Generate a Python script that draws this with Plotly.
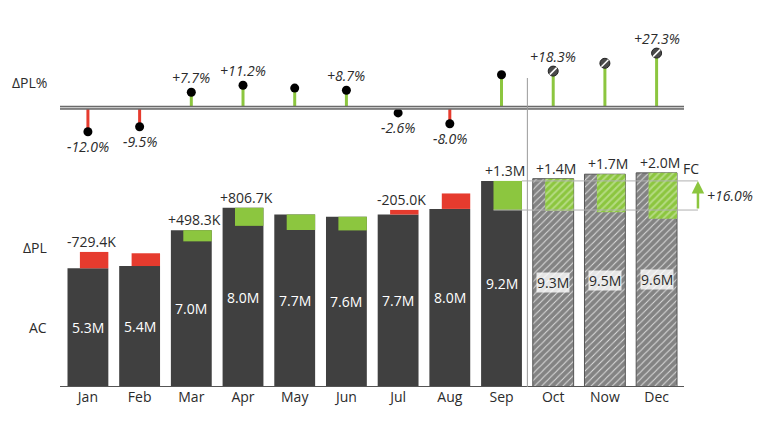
import plotly.graph_objects as go

# ---------------- data ----------------
months = ["Jan", "Feb", "Mar", "Apr", "May", "Jun", "Jul", "Aug", "Sep", "Oct", "Now", "Dec"]
ac = [5.30, 5.40, 7.00, 8.00, 7.70, 7.60, 7.70, 7.95, 9.20, 9.30, 9.50, 9.56]          # M
delta_pl = [-0.7294, -0.57, 0.4983, 0.8067, 0.69, 0.61, -0.205, -0.69, 1.30, 1.44, 1.70, 2.05]  # M
delta_pct = [-12.0, -9.5, 7.7, 11.2, 9.8, 8.7, -2.6, -8.0, 16.5, 18.3, 22.2, 27.3]     # %
pl_labels = ["-729.4K", "", "+498.3K", "+806.7K", "", "", "-205.0K", "", "+1.3M", "+1.4M", "+1.7M", "+2.0M"]
pct_labels = ["-12.0%", "-9.5%", "+7.7%", "+11.2%", "", "+8.7%", "-2.6%", "-8.0%", "", "+18.3%", "", "+27.3%"]
n_actual = 9          # Jan..Sep actual, Oct..Dec forecast
ref_label = "+16.0%"
fc_label = "FC"

# ---------------- styling ----------------
FONT = "Open Sans"
FS = 14
DARK = "#404040"
RED = "#E63B2E"
GREEN = "#8CC63F"
TXT = "#2b2b2b"
W, H = 768, 431
OFF = 8  # page body margin


def fy(p):
    """reference pixel row -> paper fraction"""
    return 1 - (p - OFF) / H


def fx(p):
    return (p - OFF) / W


py = [a - d for a, d in zip(ac, delta_pl)]
idx = list(range(len(months)))
act = idx[:n_actual]
fc = idx[n_actual:]

BAR_W, BAR_OFF = 0.79, -0.395
D_W, D_OFF = 0.55, -0.155

fig = go.Figure()

# AC bars
fig.add_trace(go.Bar(x=act, y=[ac[i] for i in act], xaxis="x", yaxis="y2",
                     width=BAR_W, offset=BAR_OFF,
                     marker=dict(color=DARK, line=dict(width=0)), hoverinfo="skip"))
# FC bars (hatched)
fig.add_trace(go.Bar(x=fc, y=[ac[i] for i in fc], xaxis="x", yaxis="y2",
                     width=BAR_W, offset=BAR_OFF,
                     marker=dict(color="white", line=dict(color="#555555", width=1),
                                 pattern=dict(shape="/", fgcolor="#2a2a2a", bgcolor="#dcdcdc",
                                              size=5, solidity=0.8)),
                     hoverinfo="skip"))
# delta boxes, actual
fig.add_trace(go.Bar(x=act, y=[abs(delta_pl[i]) for i in act],
                     base=[min(ac[i], py[i]) for i in act], xaxis="x", yaxis="y2",
                     width=D_W, offset=D_OFF,
                     marker=dict(color=[GREEN if delta_pl[i] >= 0 else RED for i in act],
                                 line=dict(width=0)), hoverinfo="skip"))
# delta boxes, forecast (hatched green)
fig.add_trace(go.Bar(x=fc, y=[abs(delta_pl[i]) for i in fc],
                     base=[min(ac[i], py[i]) for i in fc], xaxis="x", yaxis="y2",
                     width=D_W, offset=D_OFF,
                     marker=dict(color=GREEN, line=dict(width=0),
                                 pattern=dict(shape="/", fgcolor="#DDF0C6", bgcolor="#8CC63F",
                                              size=5, solidity=0.4)),
                     hoverinfo="skip"))

# lollipop stems
for sign, col in ((1, GREEN), (-1, RED)):
    xs, ys = [], []
    for i in idx:
        if delta_pct[i] * sign > 0:
            xs += [i, i, None]
            ys += [0, delta_pct[i], None]
    fig.add_trace(go.Scatter(x=xs, y=ys, xaxis="x", yaxis="y", mode="lines",
                             line=dict(color=col, width=3), hoverinfo="skip"))

# lollipop heads
fig.add_trace(go.Scatter(x=act, y=[delta_pct[i] for i in act], xaxis="x", yaxis="y",
                         mode="markers", marker=dict(color="black", size=9), hoverinfo="skip"))
fig.add_trace(go.Scatter(x=fc, y=[delta_pct[i] for i in fc], xaxis="x", yaxis="y",
                         mode="markers", marker=dict(color="#4a4a4a", size=10,
                                                     line=dict(color="#222", width=1)),
                         hoverinfo="skip"))
fig.add_trace(go.Scatter(x=fc, y=[delta_pct[i] for i in fc], xaxis="x", yaxis="y",
                         mode="markers", marker=dict(symbol="line-ne", size=7,
                                                     line=dict(color="white", width=1.5)),
                         hoverinfo="skip"))

ann = []
# percent labels
for i in idx:
    if pct_labels[i]:
        up = delta_pct[i] >= 0
        ann.append(dict(x=i, y=delta_pct[i], xref="x", yref="y",
                        text="<i>" + pct_labels[i] + "</i>", showarrow=False,
                        yanchor="middle", yshift=15 if up else -15,
                        font=dict(family=FONT, size=FS, color=TXT)))
# value labels inside bars
for i in idx:
    if i < n_actual:
        ann.append(dict(x=i, y=ac[i] / 2, xref="x", yref="y2", text=f"{ac[i]:.1f}M",
                        showarrow=False, yanchor="middle",
                        font=dict(family=FONT, size=FS, color="white")))
    else:
        ann.append(dict(x=i, y=ac[i] / 2, xref="x", yref="y2", text=f"{ac[i]:.1f}M",
                        showarrow=False, yanchor="middle",
                        bgcolor="rgba(255,255,255,0.8)", borderpad=0,
                        font=dict(family=FONT, size=FS, color="#2a2a2a")))
# delta labels above bars
for i in idx:
    if pl_labels[i]:
        ann.append(dict(x=i + 0.06, y=max(ac[i], py[i]), xref="x", yref="y2",
                        text=pl_labels[i], showarrow=False, yanchor="bottom", yshift=-1,
                        font=dict(family=FONT, size=FS, color=TXT)))
# row labels
for txt, yy in (("ΔPL%", fy(83)), ("ΔPL", fy(247)), ("AC", fy(327))):
    ann.append(dict(x=fx(49), y=yy, xref="paper", yref="paper", text=txt, showarrow=False,
                    xanchor="right", yanchor="middle",
                    font=dict(family=FONT, size=FS, color=TXT)))

# reference arrow and label
s = n_actual - 1
arrow_x = 11.8
ann.append(dict(x=arrow_x, y=ac[s], ax=arrow_x, ay=py[s], xref="x", yref="y2",
                axref="x", ayref="y2", text="", showarrow=True, arrowhead=2,
                arrowsize=1, arrowwidth=2.5, arrowcolor=GREEN))
ann.append(dict(x=arrow_x + 0.13, y=(ac[s] + py[s]) / 2, xref="x", yref="y2",
                text="<i>" + ref_label + "</i>", showarrow=False, xanchor="left",
                yanchor="middle", font=dict(family=FONT, size=FS, color=TXT)))
ann.append(dict(x=11.47, y=ac[-1], xref="x", yref="y2", text=fc_label, showarrow=False,
                xanchor="left", yanchor="middle", yshift=4,
                font=dict(family=FONT, size=FS, color=TXT)))

shapes = [
    # bottom axis line
    dict(type="line", xref="x", yref="y2", x0=-0.54, x1=11.53, y0=0, y1=0,
         line=dict(color="#555", width=2)),
    # lollipop baseline (double line)
    dict(type="line", xref="x", yref="y", x0=-0.54, x1=11.53, y0=0, y1=0,
         line=dict(color="#6a6a6a", width=4)),
    dict(type="line", xref="x", yref="y", x0=-0.54, x1=11.53, y0=0, y1=0,
         line=dict(color="#dddddd", width=1)),
    # actual / forecast separator
    dict(type="line", xref="x", yref="paper", x0=n_actual - 0.5, x1=n_actual - 0.5,
         y0=fy(387), y1=fy(78), line=dict(color="#999999", width=1)),
    # reference lines from Sep
    dict(type="line", xref="x", yref="y2", x0=s + 0.395, x1=arrow_x, y0=ac[s], y1=ac[s],
         line=dict(color="#b0b0b0", width=1), layer="above"),
    dict(type="line", xref="x", yref="y2", x0=s - 0.155, x1=arrow_x, y0=py[s], y1=py[s],
         line=dict(color="#b0b0b0", width=1), layer="above"),
]

px_per_m = 22.4
fig.update_layout(
    width=W, height=H, margin=dict(l=0, r=0, t=0, b=0),
    paper_bgcolor="white", plot_bgcolor="white",
    showlegend=False, barmode="overlay",
    font=dict(family=FONT, size=FS, color=TXT),
    xaxis=dict(domain=[fx(60), fx(760)], range=[-0.54, 13.0], anchor="y2",
               tickvals=idx, ticktext=months, showgrid=False, zeroline=False,
               showline=False, ticks="", tickfont=dict(family=FONT, size=FS, color=TXT)),
    yaxis=dict(domain=[fy(148), fy(40)], range=[-(148 - 107.7) / 2, (107.7 - 40) / 2],
               visible=False),
    yaxis2=dict(domain=[fy(387), fy(150)], range=[0, (387 - 150) / px_per_m],
                visible=False),
    annotations=ann, shapes=shapes,
)

fig.write_html("out.html")
